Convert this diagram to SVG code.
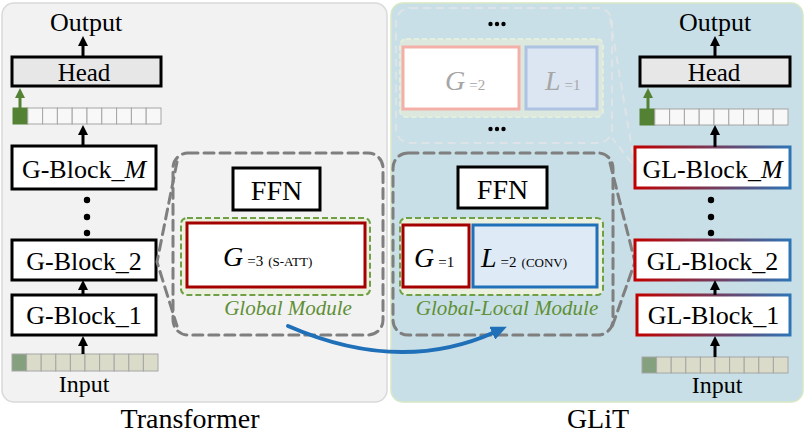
<svg xmlns="http://www.w3.org/2000/svg" width="805" height="434" viewBox="0 0 805 434">
<style>
.blk{fill:#fff;stroke:#000;stroke-width:3}
.glb{fill:#fff;stroke:url(#rb);stroke-width:3}
.head{fill:#e7e7e7;stroke:#000;stroke-width:3}
.arr{stroke:#000;stroke-width:3;fill:none;marker-end:url(#ah)}
.garr{stroke:#548235;stroke-width:3;fill:none;marker-end:url(#gh)}
.dash{fill:none;stroke:#7f7f7f;stroke-width:3;stroke-dasharray:10 6;stroke-linecap:round}
.gdash{fill:#ebf1de;stroke:#70a045;stroke-width:2;stroke-dasharray:6 3}
.tk{fill:#f8f8f8;stroke:#a6a6a6;stroke-width:1}
.tki{fill:#dadbc8;stroke:#a6a6a6;stroke-width:1}
.mod{font-style:italic;fill:#5f8f36;font-size:21px}
</style>
<defs>
<linearGradient id="rb" x1="0" y1="0" x2="1" y2="0">
<stop offset="0" stop-color="#c00000"/><stop offset="1" stop-color="#2e75b6"/>
</linearGradient>
<marker id="ah" markerUnits="userSpaceOnUse" markerWidth="10" markerHeight="10" refX="1" refY="5" orient="auto"><path d="M0,0 L10,5 L0,10 z" fill="#000"/></marker>
<marker id="gh" markerUnits="userSpaceOnUse" markerWidth="10" markerHeight="10" refX="1" refY="5" orient="auto"><path d="M0,0 L10,5 L0,10 z" fill="#548235"/></marker>
<marker id="bh" markerUnits="userSpaceOnUse" markerWidth="16" markerHeight="14" refX="3" refY="7" orient="auto"><path d="M0,0 L16,7 L0,14 z" fill="#1f70b8"/></marker>
</defs>
<g font-family="'Liberation Serif', 'DejaVu Serif', serif">
<!-- panels -->
<g id="panel-transformer">
<rect x="2" y="3" width="385" height="399" rx="12" fill="#f2f2f2" stroke="#d9d9d9" stroke-width="1.5"/>
</g>
<g id="panel-glit">
<rect x="391" y="3" width="412" height="399" rx="12" fill="#c8dfe7" stroke="#d6e8c4" stroke-width="1.5"/>
</g>

<!-- left column -->
<g id="t-output"><text x="86" y="31" font-size="26" text-anchor="middle">Output</text></g>
<g id="t-head"><rect class="head" x="12" y="57" width="149" height="29"/><text x="84" y="81" font-size="25" text-anchor="middle">Head</text></g>
<g id="t-tokens">
<rect x="13" y="108" width="14.8" height="16" fill="#548235" stroke="#548235"/>
<rect class="tk" x="27.8" y="108" width="14.8" height="16"/><rect class="tk" x="42.6" y="108" width="14.8" height="16"/><rect class="tk" x="57.4" y="108" width="14.8" height="16"/><rect class="tk" x="72.2" y="108" width="14.8" height="16"/><rect class="tk" x="87" y="108" width="14.8" height="16"/><rect class="tk" x="101.8" y="108" width="14.8" height="16"/><rect class="tk" x="116.6" y="108" width="14.8" height="16"/><rect class="tk" x="131.4" y="108" width="14.8" height="16"/><rect class="tk" x="146.2" y="108" width="14.8" height="16"/>
</g>
<g id="t-blockM"><rect class="blk" x="12" y="146" width="144" height="43"/><text x="84" y="178" font-size="26" text-anchor="middle">G-Block_<tspan font-style="italic">M</tspan></text></g>
<g id="t-dots"><circle cx="87" cy="200" r="3.2"/><circle cx="87" cy="217" r="3.2"/><circle cx="87" cy="233" r="3.2"/></g>
<g id="t-block2"><rect class="blk" x="12" y="240" width="144" height="40"/><text x="84" y="270" font-size="26" text-anchor="middle">G-Block_2</text></g>
<g id="t-block1"><rect class="blk" x="12" y="295" width="144" height="40"/><text x="84" y="324" font-size="26" text-anchor="middle">G-Block_1</text></g>
<g id="t-input">
<rect x="12" y="354" width="14.6" height="17" fill="#84a07e" stroke="#a6a6a6"/>
<rect class="tki" x="26.6" y="354" width="14.6" height="17"/><rect class="tki" x="41.2" y="354" width="14.6" height="17"/><rect class="tki" x="55.8" y="354" width="14.6" height="17"/><rect class="tki" x="70.4" y="354" width="14.6" height="17"/><rect class="tki" x="85" y="354" width="14.6" height="17"/><rect class="tki" x="99.6" y="354" width="14.6" height="17"/><rect class="tki" x="114.2" y="354" width="14.6" height="17"/><rect class="tki" x="128.8" y="354" width="14.6" height="17"/><rect class="tki" x="143.4" y="354" width="14.6" height="17"/>
<text x="84" y="392" font-size="24" text-anchor="middle">Input</text>
</g>

<!-- global module detail -->
<g id="global-module">
<path class="dash" d="M188,153 H368 A15,15 0 0 1 383,168 V320 A15,15 0 0 1 368,335 H188 A15,15 0 0 1 173,320 V168 A15,15 0 0 1 188,153 Z"/>
<path class="dash" d="M177,162 L157,262 L177,326"/>
<rect class="blk" x="233" y="168" width="87" height="42"/>
<text x="276.5" y="200" font-size="28" text-anchor="middle">FFN</text>
<rect class="gdash" x="181" y="218" width="189" height="77" rx="6"/>
<rect x="187" y="223" width="178" height="64" fill="#fff" stroke="#a50000" stroke-width="3"/>
<text x="223" y="266" font-size="28"><tspan font-style="italic">G</tspan><tspan font-size="15" dx="4">=3</tspan><tspan font-size="13" dx="5">(S-ATT)</tspan></text>
<text class="mod" x="288" y="315" text-anchor="middle">Global Module</text>
</g>

<!-- faded module -->
<g id="faded-module">
<rect x="396" y="8" width="216" height="135" rx="14" fill="none" stroke="#dde3e6" stroke-width="2" stroke-dasharray="8 5"/>
<path d="M610,18 L635,167 L612,138" fill="none" stroke="#dde3e6" stroke-width="2" stroke-dasharray="8 5"/>
<g fill="#000"><circle cx="490.5" cy="24" r="2.2"/><circle cx="497" cy="24" r="2.2"/><circle cx="503.5" cy="24" r="2.2"/></g>
<rect x="400" y="39" width="203" height="78" rx="6" fill="#dce8de" stroke="#e4eedc" stroke-width="2" stroke-dasharray="5 3"/>
<rect x="403" y="47" width="116" height="62" fill="#fff" stroke="#f4b0a8" stroke-width="3"/>
<rect x="526" y="47" width="71" height="62" fill="#dce6f2" stroke="#aec2e2" stroke-width="3"/>
<text x="445" y="90" font-size="28" fill="#a6a6a6"><tspan font-style="italic">G</tspan><tspan font-size="15" dx="4">=2</tspan></text>
<text x="545" y="90" font-size="28" fill="#a6a6a6"><tspan font-style="italic">L</tspan><tspan font-size="15" dx="4">=1</tspan></text>
<g fill="#000"><circle cx="490.5" cy="129" r="2.2"/><circle cx="497" cy="129" r="2.2"/><circle cx="503.5" cy="129" r="2.2"/></g>
</g>

<!-- global-local module detail -->
<g id="global-local-module">
<path class="dash" d="M408,153 H598 A15,15 0 0 1 613,168 V320 A15,15 0 0 1 598,335 H408 A15,15 0 0 1 393,320 V168 A15,15 0 0 1 408,153 Z"/>
<path class="dash" d="M610,163 L635,262 L612,327"/>
<rect class="blk" x="458" y="167" width="89" height="41"/>
<text x="502.5" y="199" font-size="28" text-anchor="middle">FFN</text>
<rect class="gdash" x="400" y="218" width="203" height="77" rx="6"/>
<rect x="403" y="225" width="66" height="62" fill="#fff" stroke="#a50000" stroke-width="3"/>
<rect x="473" y="225" width="124" height="62" fill="#deebf7" stroke="#1f70b8" stroke-width="3"/>
<text x="414" y="267" font-size="28"><tspan font-style="italic">G</tspan><tspan font-size="15" dx="4">=1</tspan></text>
<text x="481" y="267" font-size="28"><tspan font-style="italic">L</tspan><tspan font-size="15" dx="4">=2</tspan><tspan font-size="13" dx="5">(CONV)</tspan></text>
<text class="mod" x="507" y="315" text-anchor="middle">Global-Local Module</text>
</g>

<!-- right column -->
<g id="g-output"><text x="715" y="31" font-size="26" text-anchor="middle">Output</text></g>
<g id="g-head"><rect class="head" x="640" y="57" width="150" height="29"/><text x="714" y="81" font-size="25" text-anchor="middle">Head</text></g>
<g id="g-tokens">
<rect x="640" y="109" width="14.8" height="16" fill="#548235" stroke="#548235"/>
<rect class="tk" x="654.8" y="109" width="14.8" height="16"/><rect class="tk" x="669.6" y="109" width="14.8" height="16"/><rect class="tk" x="684.4" y="109" width="14.8" height="16"/><rect class="tk" x="699.2" y="109" width="14.8" height="16"/><rect class="tk" x="714" y="109" width="14.8" height="16"/><rect class="tk" x="728.8" y="109" width="14.8" height="16"/><rect class="tk" x="743.6" y="109" width="14.8" height="16"/><rect class="tk" x="758.4" y="109" width="14.8" height="16"/><rect class="tk" x="773.2" y="109" width="14.8" height="16"/>
</g>
<g id="g-blockM"><rect class="glb" x="635" y="147" width="155" height="41"/><text x="712.5" y="178" font-size="26" text-anchor="middle">GL-Block_<tspan font-style="italic">M</tspan></text></g>
<g id="g-dots"><circle cx="711" cy="200" r="3.2"/><circle cx="711" cy="217" r="3.2"/><circle cx="711" cy="233" r="3.2"/></g>
<g id="g-block2"><rect class="glb" x="635" y="240" width="155" height="40"/><text x="712.5" y="270" font-size="26" text-anchor="middle">GL-Block_2</text></g>
<g id="g-block1"><rect class="glb" x="637" y="295" width="153" height="40"/><text x="713.5" y="324" font-size="26" text-anchor="middle">GL-Block_1</text></g>
<g id="g-input">
<rect x="642" y="357" width="14.6" height="16" fill="#84a07e" stroke="#a6a6a6"/>
<rect class="tki" x="656.6" y="357" width="14.6" height="16"/><rect class="tki" x="671.2" y="357" width="14.6" height="16"/><rect class="tki" x="685.8" y="357" width="14.6" height="16"/><rect class="tki" x="700.4" y="357" width="14.6" height="16"/><rect class="tki" x="715" y="357" width="14.6" height="16"/><rect class="tki" x="729.6" y="357" width="14.6" height="16"/><rect class="tki" x="744.2" y="357" width="14.6" height="16"/><rect class="tki" x="758.8" y="357" width="14.6" height="16"/><rect class="tki" x="773.4" y="357" width="14.6" height="16"/>
<text x="717" y="393" font-size="24" text-anchor="middle">Input</text>
</g>

<!-- connectors -->
<g id="connectors">
<line class="arr" x1="83" y1="57" x2="83" y2="45"/>
<line class="garr" x1="20" y1="108" x2="20" y2="97"/>
<line class="arr" x1="83" y1="146" x2="83" y2="134"/>
<line class="arr" x1="83" y1="295" x2="83" y2="289"/>
<line class="arr" x1="83" y1="354" x2="83" y2="345"/>
<line class="arr" x1="715" y1="57" x2="715" y2="45"/>
<line class="garr" x1="648" y1="109" x2="648" y2="97"/>
<line class="arr" x1="715" y1="147" x2="715" y2="134"/>
<line class="arr" x1="715" y1="295" x2="715" y2="289"/>
<line class="arr" x1="715" y1="357" x2="715" y2="345"/>
<path d="M288,326 Q400,375 495,332" fill="none" stroke="#1f70b8" stroke-width="4" stroke-linecap="round" marker-end="url(#bh)"/>
</g>

<g id="labels">
<text x="190" y="428" font-size="28" text-anchor="middle">Transformer</text>
<text x="598" y="428" font-size="28" text-anchor="middle">GLiT</text>
</g>
</g>
</svg>
